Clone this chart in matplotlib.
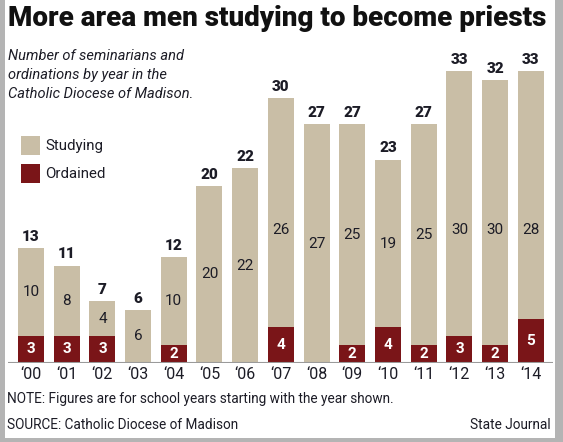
import matplotlib.pyplot as plt
from matplotlib.patches import Rectangle

years = ["\u201800", "\u201801", "\u201802", "\u201803", "\u201804", "\u201805", "\u201806", "\u201807",
         "\u201808", "\u201809", "\u201810", "\u201811", "\u201812", "\u201813", "\u201814"]
studying = [10, 8, 4, 6, 10, 20, 22, 26, 27, 25, 19, 25, 30, 30, 28]
ordained = [3, 3, 3, 0, 2, 0, 0, 4, 0, 2, 4, 2, 3, 2, 5]
totals = [s + o for s, o in zip(studying, ordained)]

tan = "#c9bea6"
red = "#7a1518"
ink = "#1c1c26"
narrow = ["Roboto", "DejaVu Sans"]

W, H = 563, 442
fig = plt.figure(figsize=(W / 100, H / 100), dpi=100)
fig.patch.set_facecolor("#b4b4b4")
# white card with grey shadow round it
fig.patches.append(Rectangle((5 / W, 4 / H), 550 / W, 438 / H, transform=fig.transFigure,
                             facecolor="white", edgecolor="none", zorder=-5))

ax = fig.add_axes([8 / W, 79.3 / H, 545 / W, 322.7 / H])
ax.set_facecolor("none")
x = list(range(len(years)))
ax.bar(x, ordained, width=0.728, color=red, zorder=2)
ax.bar(x, studying, bottom=ordained, width=0.728, color=tan, zorder=2)
ax.set_xlim(-0.644, 14.622)
ax.set_ylim(0, 36.55)
ax.axhline(0, color="#9a9a9a", lw=1.5, zorder=3)
for s in ax.spines.values():
    s.set_visible(False)
ax.set_yticks([])
ax.set_xticks(x)
ax.set_xticklabels(years, family=narrow, fontsize=11.5, color=ink)
ax.tick_params(axis="x", length=0, pad=3)

for i in x:
    ax.annotate(str(totals[i]), (i, totals[i]), xytext=(0, 3), textcoords="offset points",
                ha="center", va="bottom", fontsize=11, fontweight="black", color=ink, family=narrow)
    if studying[i]:
        ymid = min(ordained[i] + studying[i] / 2, 15)
        ax.text(i, ymid, str(studying[i]), ha="center", va="center", fontsize=11,
                color=ink, family=narrow)
    if ordained[i]:
        ax.text(i, ordained[i] / 2, str(ordained[i]), ha="center", va="center", fontsize=11,
                fontweight="bold", color="white", family=narrow)

fig.text(8 / W, 1 - 19 / H, "More area men studying to become priests", fontsize=20,
         fontweight="black", color="#111111", va="center", ha="left", family=narrow)
fig.text(8 / W, 1 - 49 / H, "Number of seminarians and\nordinations by year in the\nCatholic Diocese of Madison.",
         fontsize=10.5, style="italic", color=ink, va="top", ha="left", linespacing=1.45, family=narrow)

fig.patches.append(Rectangle((21 / W, 1 - 155 / H), 19 / W, 19 / H, transform=fig.transFigure,
                             facecolor=tan, edgecolor="none"))
fig.patches.append(Rectangle((21 / W, 1 - 183 / H), 19 / W, 19 / H, transform=fig.transFigure,
                             facecolor=red, edgecolor="none"))
fig.text(45 / W, 1 - 146 / H, "Studying", fontsize=10.8, color=ink, va="center", family=narrow)
fig.text(45 / W, 1 - 174 / H, "Ordained", fontsize=10.8, color=ink, va="center", family=narrow)

fig.text(7 / W, 1 - 399 / H, "NOTE: Figures are for school years starting with the year shown.",
         fontsize=9.8, color=ink, va="center", family=narrow)
fig.text(7 / W, 1 - 425 / H, "SOURCE: Catholic Diocese of Madison",
         fontsize=9.8, color=ink, va="center", family=narrow)
fig.text(551 / W, 1 - 425 / H, "State Journal",
         fontsize=9.8, color=ink, va="center", ha="right", family=narrow)

fig.savefig("out.png", dpi=100, facecolor=fig.get_facecolor())
